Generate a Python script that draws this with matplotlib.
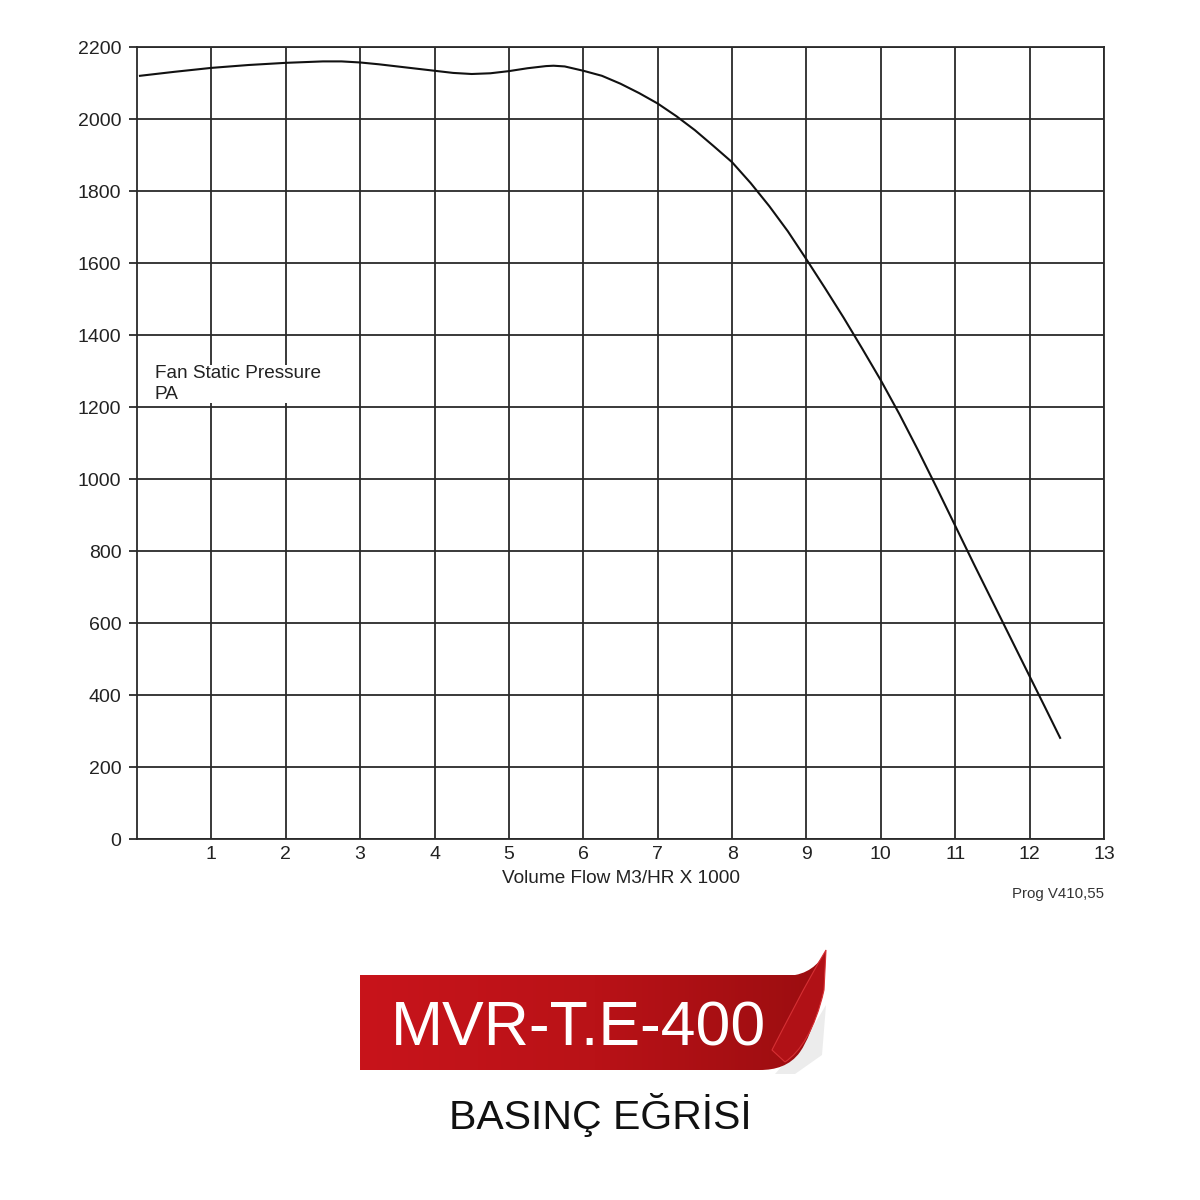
import numpy as np
import matplotlib
matplotlib.use("Agg")
import matplotlib.pyplot as plt
from matplotlib.patches import Polygon
from matplotlib.path import Path
from matplotlib.patches import PathPatch

plt.rcParams['font.family'] = ['Liberation Sans', 'DejaVu Sans']

# volume flow (m3/h x 1000) and fan static pressure (Pa)
flow = [0.04, 0.5, 1, 1.5, 2, 2.5, 2.75, 3, 3.25, 3.5, 3.75, 4, 4.25, 4.5, 4.75,
        5, 5.25, 5.5, 5.6, 5.75, 6, 6.25, 6.5, 6.75, 7, 7.25, 7.5, 7.75, 8,
        8.25, 8.5, 8.75, 9, 9.25, 9.5, 9.75, 10, 10.25, 10.5, 10.75, 11,
        11.25, 11.5, 11.75, 12, 12.2, 12.41]
pressure = [2120, 2131, 2142, 2150, 2156, 2160, 2160, 2157, 2152, 2146, 2140, 2134,
            2128, 2125, 2127, 2133, 2141, 2147, 2148, 2146, 2134, 2120, 2098, 2072,
            2043, 2008, 1969, 1925, 1880, 1822, 1758, 1688, 1610, 1530, 1448, 1362,
            1274, 1180, 1080, 976, 870, 764, 660, 556, 452, 369, 281]

x_ticks = list(range(1, 14))
y_ticks = list(range(0, 2201, 200))

model_name = "MVR-T.E-400"
subtitle = "BASINÇ EĞRİSİ"

W = H = 1200
fig = plt.figure(figsize=(12, 12), dpi=100)
fig.patch.set_facecolor('white')

grid_col = '#2a2a2a'
text_col = '#222222'

ax = fig.add_axes([137 / W, 1 - 839 / H, (1104 - 137) / W, (839 - 47) / H])
ax.set_xlim(0, 13)
ax.set_ylim(0, 2200)
ax.set_xticks(x_ticks)
ax.set_yticks(y_ticks)
ax.grid(True, color=grid_col, linewidth=1.3)
ax.set_axisbelow(True)
for s in ax.spines.values():
    s.set_color(grid_col)
    s.set_linewidth(1.3)
ax.tick_params(axis='y', length=5.8, width=1.3, color=grid_col, pad=5.5,
               labelsize=14, labelcolor=text_col)
ax.tick_params(axis='x', length=0, pad=5, labelsize=14, labelcolor=text_col)

ax.plot(flow, pressure, color='#111111', linewidth=1.5, zorder=3)

ax.text(0.24, 1317, "Fan Static Pressure\nPA", fontsize=13.7, color=text_col,
        va='top', ha='left', linespacing=1.35, zorder=4,
        bbox=dict(facecolor='white', edgecolor='none', pad=0))

ax.set_xlabel("Volume Flow M3/HR X 1000", fontsize=13.7, color=text_col, labelpad=5)
fig.text(1104 / W, 1 - 894 / H, "Prog V410,55", fontsize=10.8, color='#333333',
         ha='right', va='center')

# banner drawn in pixel coordinates
bx = fig.add_axes([0, 0, 1, 1], zorder=5)
bx.set_xlim(0, W)
bx.set_ylim(H, 0)
bx.axis('off')
bx.patch.set_alpha(0)

# soft shadow under the curl
shadow = Polygon([(805, 1040), (826, 1005), (822, 1055), (795, 1074), (775, 1074)],
                 closed=True, facecolor='#e4e4e4', edgecolor='none', alpha=0.7)
bx.add_patch(shadow)

verts = [(360, 975), (795, 975),
         (812, 972), (822, 960), (826, 950),
         (824, 990), (815, 1030), (800, 1052),
         (790, 1066), (775, 1070), (760, 1070),
         (360, 1070), (360, 975)]
codes = [Path.MOVETO, Path.LINETO,
         Path.CURVE4, Path.CURVE4, Path.CURVE4,
         Path.CURVE4, Path.CURVE4, Path.CURVE4,
         Path.CURVE4, Path.CURVE4, Path.CURVE4,
         Path.LINETO, Path.CLOSEPOLY]
banner = PathPatch(Path(verts, codes), facecolor='none', edgecolor='none')
bx.add_patch(banner)
grad = np.linspace(0, 1, 256).reshape(1, -1)
cmap = matplotlib.colors.LinearSegmentedColormap.from_list(
    'ban', ['#c8141b', '#b91217', '#9a0d10'])
img = bx.imshow(grad, cmap=cmap, extent=[360, 830, 1070, 948], aspect='auto',
                zorder=1)
img.set_clip_path(banner)

# folded flap
flap_verts = [(826, 950), (805, 985), (785, 1025), (772, 1050),
              (785, 1062), (800, 1052), (815, 1030), (824, 990), (826, 950)]
flap_codes = [Path.MOVETO, Path.CURVE4, Path.CURVE4, Path.CURVE4,
              Path.LINETO, Path.CURVE4, Path.CURVE4, Path.CURVE4, Path.CLOSEPOLY]
flap = PathPatch(Path(flap_verts, flap_codes), facecolor='#b01116',
                 edgecolor='#d63034', linewidth=0.8, zorder=2)
bx.add_patch(flap)

bx.text(579, 1029, model_name, fontsize=45, color='white', ha='center',
        va='center', zorder=3)
bx.text(600, 1115, subtitle, fontsize=29.5, color='#111111', ha='center',
        va='center', zorder=3)

fig.savefig('out.png', dpi=100)
